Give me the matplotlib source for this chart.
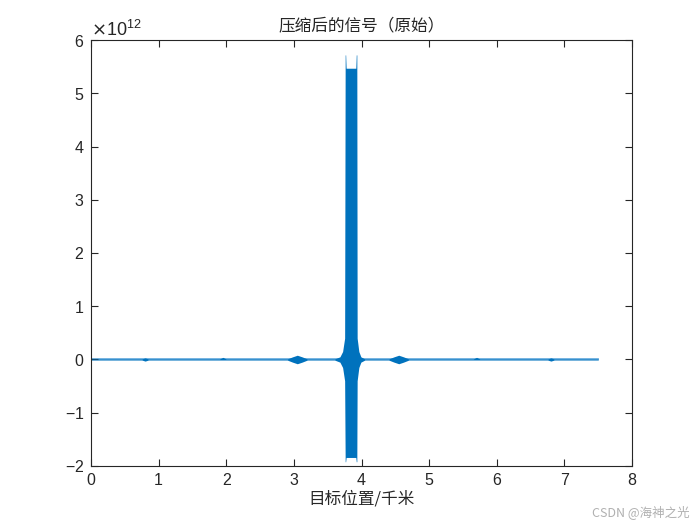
import matplotlib
matplotlib.use("Agg")
import matplotlib.pyplot as plt
from matplotlib.ticker import ScalarFormatter

# Envelope of the compressed signal (x in km, values in units of 1e12)
x_env = [0.0, 0.75, 0.8, 0.85, 1.9, 1.95, 2.0, 2.9, 2.98, 3.05, 3.12, 3.2,
         3.6, 3.68, 3.72, 3.75, 3.758, 3.765, 3.772, 3.915, 3.922, 3.93,
         3.935, 3.96, 3.99, 4.05, 4.4, 4.48, 4.55, 4.62, 4.7, 5.65, 5.7,
         5.75, 6.75, 6.8, 6.85, 7.5]
upper_env = [0.01, 0.01, 0.03, 0.01, 0.01, 0.04, 0.01, 0.01, 0.05, 0.08, 0.05, 0.01,
             0.01, 0.05, 0.15, 0.4, 5.72, 5.72, 5.47, 5.47, 5.72, 5.72,
             0.4, 0.15, 0.05, 0.01, 0.01, 0.05, 0.08, 0.05, 0.01, 0.01, 0.04,
             0.01, 0.01, 0.03, 0.01, 0.01]
lower_env = [-0.01, -0.01, -0.03, -0.01, -0.01, -0.01, -0.01, -0.01, -0.05, -0.08, -0.05, -0.01,
             -0.01, -0.05, -0.15, -0.4, -1.92, -1.92, -1.84, -1.84, -1.92, -1.92,
             -0.4, -0.15, -0.05, -0.01, -0.01, -0.05, -0.08, -0.05, -0.01, -0.01, -0.01,
             -0.01, -0.01, -0.03, -0.01, -0.01]
scale = 1e12

x_ticks = [0, 1, 2, 3, 4, 5, 6, 7, 8]
y_ticks = [-2, -1, 0, 1, 2, 3, 4, 5, 6]

title_text = "压缩后的信号（原始）"
xlabel_text = "目标位置/千米"
watermark = "CSDN @海神之光"

plt.rcParams['font.family'] = ['Liberation Sans', 'Noto Sans CJK SC', 'DejaVu Sans']
plt.rcParams['axes.unicode_minus'] = False

fig = plt.figure(figsize=(7, 5.25), dpi=100)
ax = fig.add_axes([0.13, 0.1124, 0.773, 0.8114])

up = [v * scale for v in upper_env]
lo = [v * scale for v in lower_env]
# thin trace along the envelope centre (lighter, like the dense oscillation)
ax.plot(x_env, [0.0 for _ in x_env], color='#6aaede', linewidth=1.3, zorder=1)
ax.fill_between(x_env, lo, up, color='#0072BD', linewidth=0, zorder=2)

ax.set_xlim(0, 8)
ax.set_ylim(-2 * scale, 6 * scale)
ax.set_xticks(x_ticks)
ax.set_yticks([v * scale for v in y_ticks])

fmt = ScalarFormatter(useMathText=True)
fmt.set_powerlimits((0, 0))
ax.yaxis.set_major_formatter(fmt)
ax.yaxis.get_offset_text().set_fontsize(13)

ax.tick_params(direction='in', top=True, right=True, labelsize=11.5, length=5,
               width=0.8, colors='#262626', pad=5)
for s in ax.spines.values():
    s.set_linewidth(0.8)
    s.set_color('#262626')

ax.set_title(title_text, fontsize=12, family=['Noto Sans CJK SC', 'DejaVu Sans'],
             color='#262626', pad=7)
ax.set_xlabel(xlabel_text, fontsize=12, family=['Noto Sans CJK SC', 'DejaVu Sans'],
              color='#262626', labelpad=2)

fig.text(0.985, 0.012, watermark, ha='right', va='bottom', fontsize=9,
         color='#b0b0b0', family=['Noto Sans CJK SC', 'DejaVu Sans'])

fig.savefig('out.png', dpi=100, facecolor='white')
